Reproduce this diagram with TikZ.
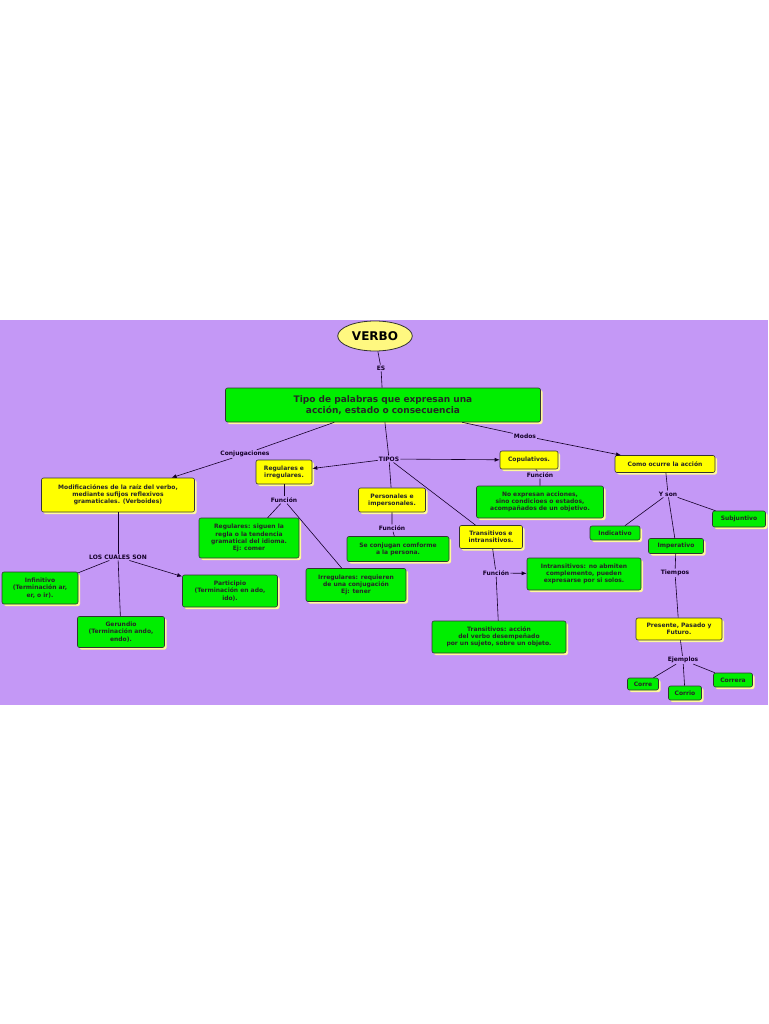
\documentclass[tikz,border=0pt]{standalone}
\usepackage{fontspec}
\setmainfont{DejaVu Sans}
\usetikzlibrary{shadows,shapes.geometric,arrows.meta}
\definecolor{bg}{RGB}{196,152,246}
\definecolor{yel}{RGB}{255,255,0}
\definecolor{grn}{RGB}{0,238,0}
\definecolor{lbl}{RGB}{20,0,40}
\tikzset{
 box/.style={draw=black!80, line width=0.6pt, rounded corners=2pt, align=center, inner sep=1pt,
   font=\fontsize{6}{7.2}\selectfont\bfseries, text=black!85,
   drop shadow={fill=yellow!40, shadow xshift=2pt, shadow yshift=-2pt, opacity=1}},
 ybox/.style={box, fill=yel},
 gbox/.style={box, fill=grn},
 lab/.style={font=\fontsize{6}{7}\selectfont\bfseries, text=lbl, inner sep=1pt},
 ln/.style={draw=lbl, line width=0.6pt},
 ar/.style={ln, -{Latex[length=5pt,width=4pt]}}
}
\begin{document}
\begin{tikzpicture}[x=1pt,y=-1pt]
\useasboundingbox (0,0) rectangle (768,1024);
\fill[bg] (0,320) rectangle (768,705);
\node[ellipse, draw=black!80, line width=0.8pt, fill=yellow!50, minimum width=68, minimum height=30, font=\fontsize{12}{14}\selectfont\bfseries] (verbo) at (375,336) {VERBO};
\node[lab] (es) at (381,368) {ES};
\node[gbox, minimum width=315, minimum height=34, font=\fontsize{9}{10.5}\selectfont\bfseries] (main) at (383,405) {Tipo de palabras que expresan una\\acción, estado o consecuencia};
\node[lab] (conj) at (245,454) {Conjugaciones};
\node[lab] (modos) at (525,436) {Modos};
\node[lab] (tipos) at (389,459) {TIPOS};
\node[ybox, minimum width=153, minimum height=34] (modif) at (118,495) {Modificaciónes de la raíz del verbo,\\mediante sufijos reflexivos\\gramaticales. (Verboides)};
\node[ybox, minimum width=56, minimum height=24] (reg) at (284,472) {Regulares e\\irregulares.};
\node[lab] (f1) at (284,500) {Función};
\node[gbox, minimum width=100, minimum height=40] (regg) at (249,538) {Regulares: siguen la\\regla o la tendencia\\gramatical del idioma.\\Ej: comer};
\node[gbox, minimum width=100, minimum height=33] (irr) at (356,585) {Irregulares: requieren\\de una conjugación\\Ej: tener};
\node[ybox, minimum width=67, minimum height=24] (pers) at (392,500) {Personales e\\impersonales.};
\node[lab] (f2) at (392,528) {Función};
\node[gbox, minimum width=102, minimum height=25] (seconj) at (398,549) {Se conjugan comforme\\a la persona.};
\node[ybox, minimum width=58, minimum height=18] (cop) at (529,460) {Copulativos.};
\node[lab] (f3) at (540,475) {Función};
\node[gbox, minimum width=127, minimum height=32] (noexp) at (540,502) {No expresan acciones,\\sino condicioes o estados,\\acompañados de un objetivo.};
\node[ybox, minimum width=63, minimum height=23] (trans) at (491,537) {Transitivos e\\intransitivos.};
\node[lab] (f4) at (496,573) {Función};
\node[gbox, minimum width=114, minimum height=32] (intr) at (584,574) {Intransitivos: no abmiten\\complemento, pueden\\expresarse por si solos.};
\node[gbox, minimum width=134, minimum height=32] (tra) at (499,637) {Transitivos: acción\\del verbo desempeñado\\por un sujeto, sobre un objeto.};
\node[ybox, minimum width=100, minimum height=17] (como) at (665,464) {Como ocurre la acción};
\node[lab] (yson) at (668,494) {Y son};
\node[gbox, minimum width=53, minimum height=16] (subj) at (739,519) {Subjuntivo};
\node[gbox, minimum width=50, minimum height=14] (ind) at (615,533) {Indicativo};
\node[gbox, minimum width=55, minimum height=15] (imp) at (676,546) {Imperativo};
\node[lab] (tiem) at (675,573) {Tiempos};
\node[ybox, minimum width=86, minimum height=22] (pres) at (679,629) {Presente, Pasado y\\Futuro.};
\node[lab] (ejem) at (683,660) {Ejemplos};
\node[gbox, minimum width=31, minimum height=12] (corre) at (643,684) {Corre};
\node[gbox, minimum width=33, minimum height=14] (corrio) at (685,693) {Corrio};
\node[gbox, minimum width=39, minimum height=14] (correra) at (733,680) {Correra};
\node[lab] (los) at (118,557) {LOS CUALES SON};
\node[gbox, minimum width=76, minimum height=32] (inf) at (40,588) {Infinitivo\\(Terminación ar,\\er, o  ir).};
\node[gbox, minimum width=87, minimum height=31] (ger) at (121,632) {Gerundio\\(Terminación ando,\\endo).};
\node[gbox, minimum width=95, minimum height=32] (part) at (230,591) {Participio\\(Terminación en ado,\\ido).};
% connectors
\draw[ln] (verbo) -- (es) -- (main);
\draw[ln] (main) -- (conj); \draw[ar] (conj) -- (modif);
\draw[ln] (main) -- (tipos);
\draw[ar] (tipos) -- (reg); \draw[ar] (tipos) -- (cop);
\draw[ln] (tipos) -- (pers); \draw[ln] (tipos) -- (trans);
\draw[ln] (main) -- (modos); \draw[ar] (modos) -- (como);
\draw[ln] (reg) -- (f1); \draw[ln] (f1) -- (regg); \draw[ln] (f1) -- (irr);
\draw[ln] (pers) -- (f2) -- (seconj);
\draw[ln] (cop) -- (f3) -- (noexp);
\draw[ln] (trans) -- (f4); \draw[ar] (f4) -- (intr); \draw[ln] (f4) -- (tra);
\draw[ln] (modif) -- (los); \draw[ln] (los) -- (inf); \draw[ar] (los) -- (part); \draw[ln] (los) -- (ger);
\draw[ln] (como) -- (yson); \draw[ln] (yson) -- (ind); \draw[ln] (yson) -- (subj); \draw[ln] (yson) -- (imp);
\draw[ln] (imp) -- (tiem) -- (pres) -- (ejem);
\draw[ln] (ejem) -- (corre); \draw[ln] (ejem) -- (corrio); \draw[ln] (ejem) -- (correra);
\end{tikzpicture}
\end{document}
